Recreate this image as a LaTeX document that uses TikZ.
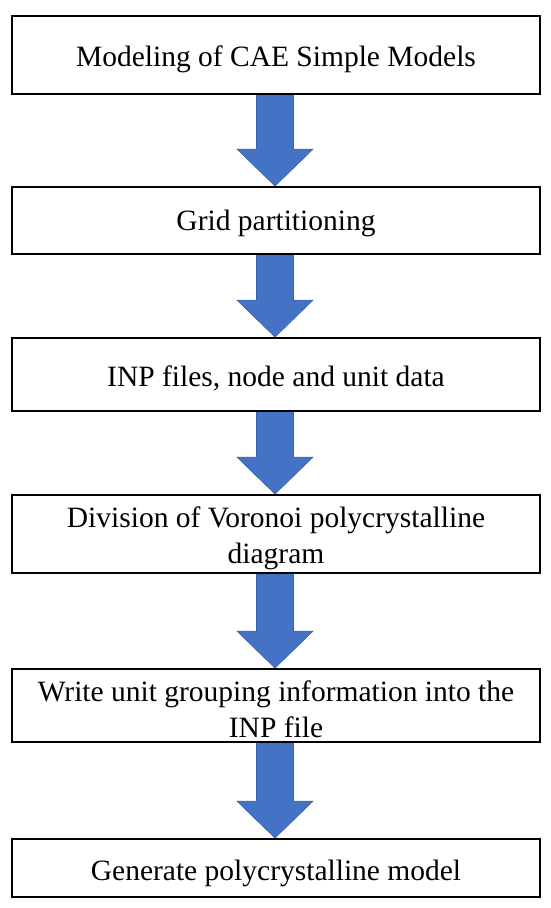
\documentclass[tikz,border=0pt]{standalone}
\usepackage{fontspec}
\setmainfont{Liberation Serif}
\usetikzlibrary{calc}
\definecolor{arrblue}{HTML}{4472C4}
\definecolor{arredge}{HTML}{3A62AC}
\pgfdeclarelayer{backlayer}
\pgfdeclarelayer{arrowlayer}
\pgfsetlayers{backlayer,arrowlayer,main}
\newcommand\blkarrow[2]{%
  \path[blkarr] let \p1=(#1.south), \p2=(#2.north) in
    (\x1-19.5pt,\y1) -- (\x1+17.5pt,\y1) -- (\x1+17.5pt,\y2+37pt) --
    (\x1+37pt,\y2+37pt) -- (\x2-1pt,\y2) -- (\x1-39pt,\y2+37pt) --
    (\x1-19.5pt,\y2+37pt) -- cycle;}
\begin{document}
\begin{tikzpicture}[x=1pt,y=-1pt,
  stepbox/.style={draw=black, line width=1.8pt, fill=white, minimum width=528pt,
    inner sep=0pt},
  steplabel/.style={inner sep=0pt, align=center, font=\fontsize{29.5}{36}\selectfont},
  blkarr/.style={fill=arrblue, draw=arredge, line width=0.6pt}]
\useasboundingbox (0,0) rectangle (550,908);
\begin{pgfonlayer}{backlayer}
\fill[white] (0,0) rectangle (550,908);
\end{pgfonlayer}
\node[stepbox, minimum height=78pt] (b1) at (276,55) {};
\node[stepbox, minimum height=67pt] (b2) at (276,220.5) {};
\node[stepbox, minimum height=73pt] (b3) at (276,374.5) {};
\node[stepbox, minimum height=78pt] (b4) at (276,534) {};
\node[stepbox, minimum height=73pt] (b5) at (276,705.5) {};
\node[stepbox, minimum height=58pt] (b6) at (276,868) {};
\node[steplabel] (t1) at ($(b1.center)+(0,4)$) {Modeling of CAE Simple Models};
\node[steplabel] (t2) at ($(b2.center)+(0,3)$) {Grid partitioning};
\node[steplabel] (t3) at ($(b3.center)+(0,3.5)$) {INP files, node and unit data};
\node[steplabel] (t4) at ($(b4.center)+(0,4)$) {Division of Voronoi polycrystalline\\diagram};
\node[steplabel] (t5) at ($(b5.center)+(0,3.5)$) {Write unit grouping information into the\\INP file};
\node[steplabel] (t6) at ($(b6.center)+(0,5)$) {Generate polycrystalline model};
\begin{pgfonlayer}{arrowlayer}
\blkarrow{b1}{b2}
\blkarrow{b2}{b3}
\blkarrow{b3}{b4}
\blkarrow{b4}{b5}
\blkarrow{b5}{b6}
\end{pgfonlayer}
\end{tikzpicture}
\end{document}
